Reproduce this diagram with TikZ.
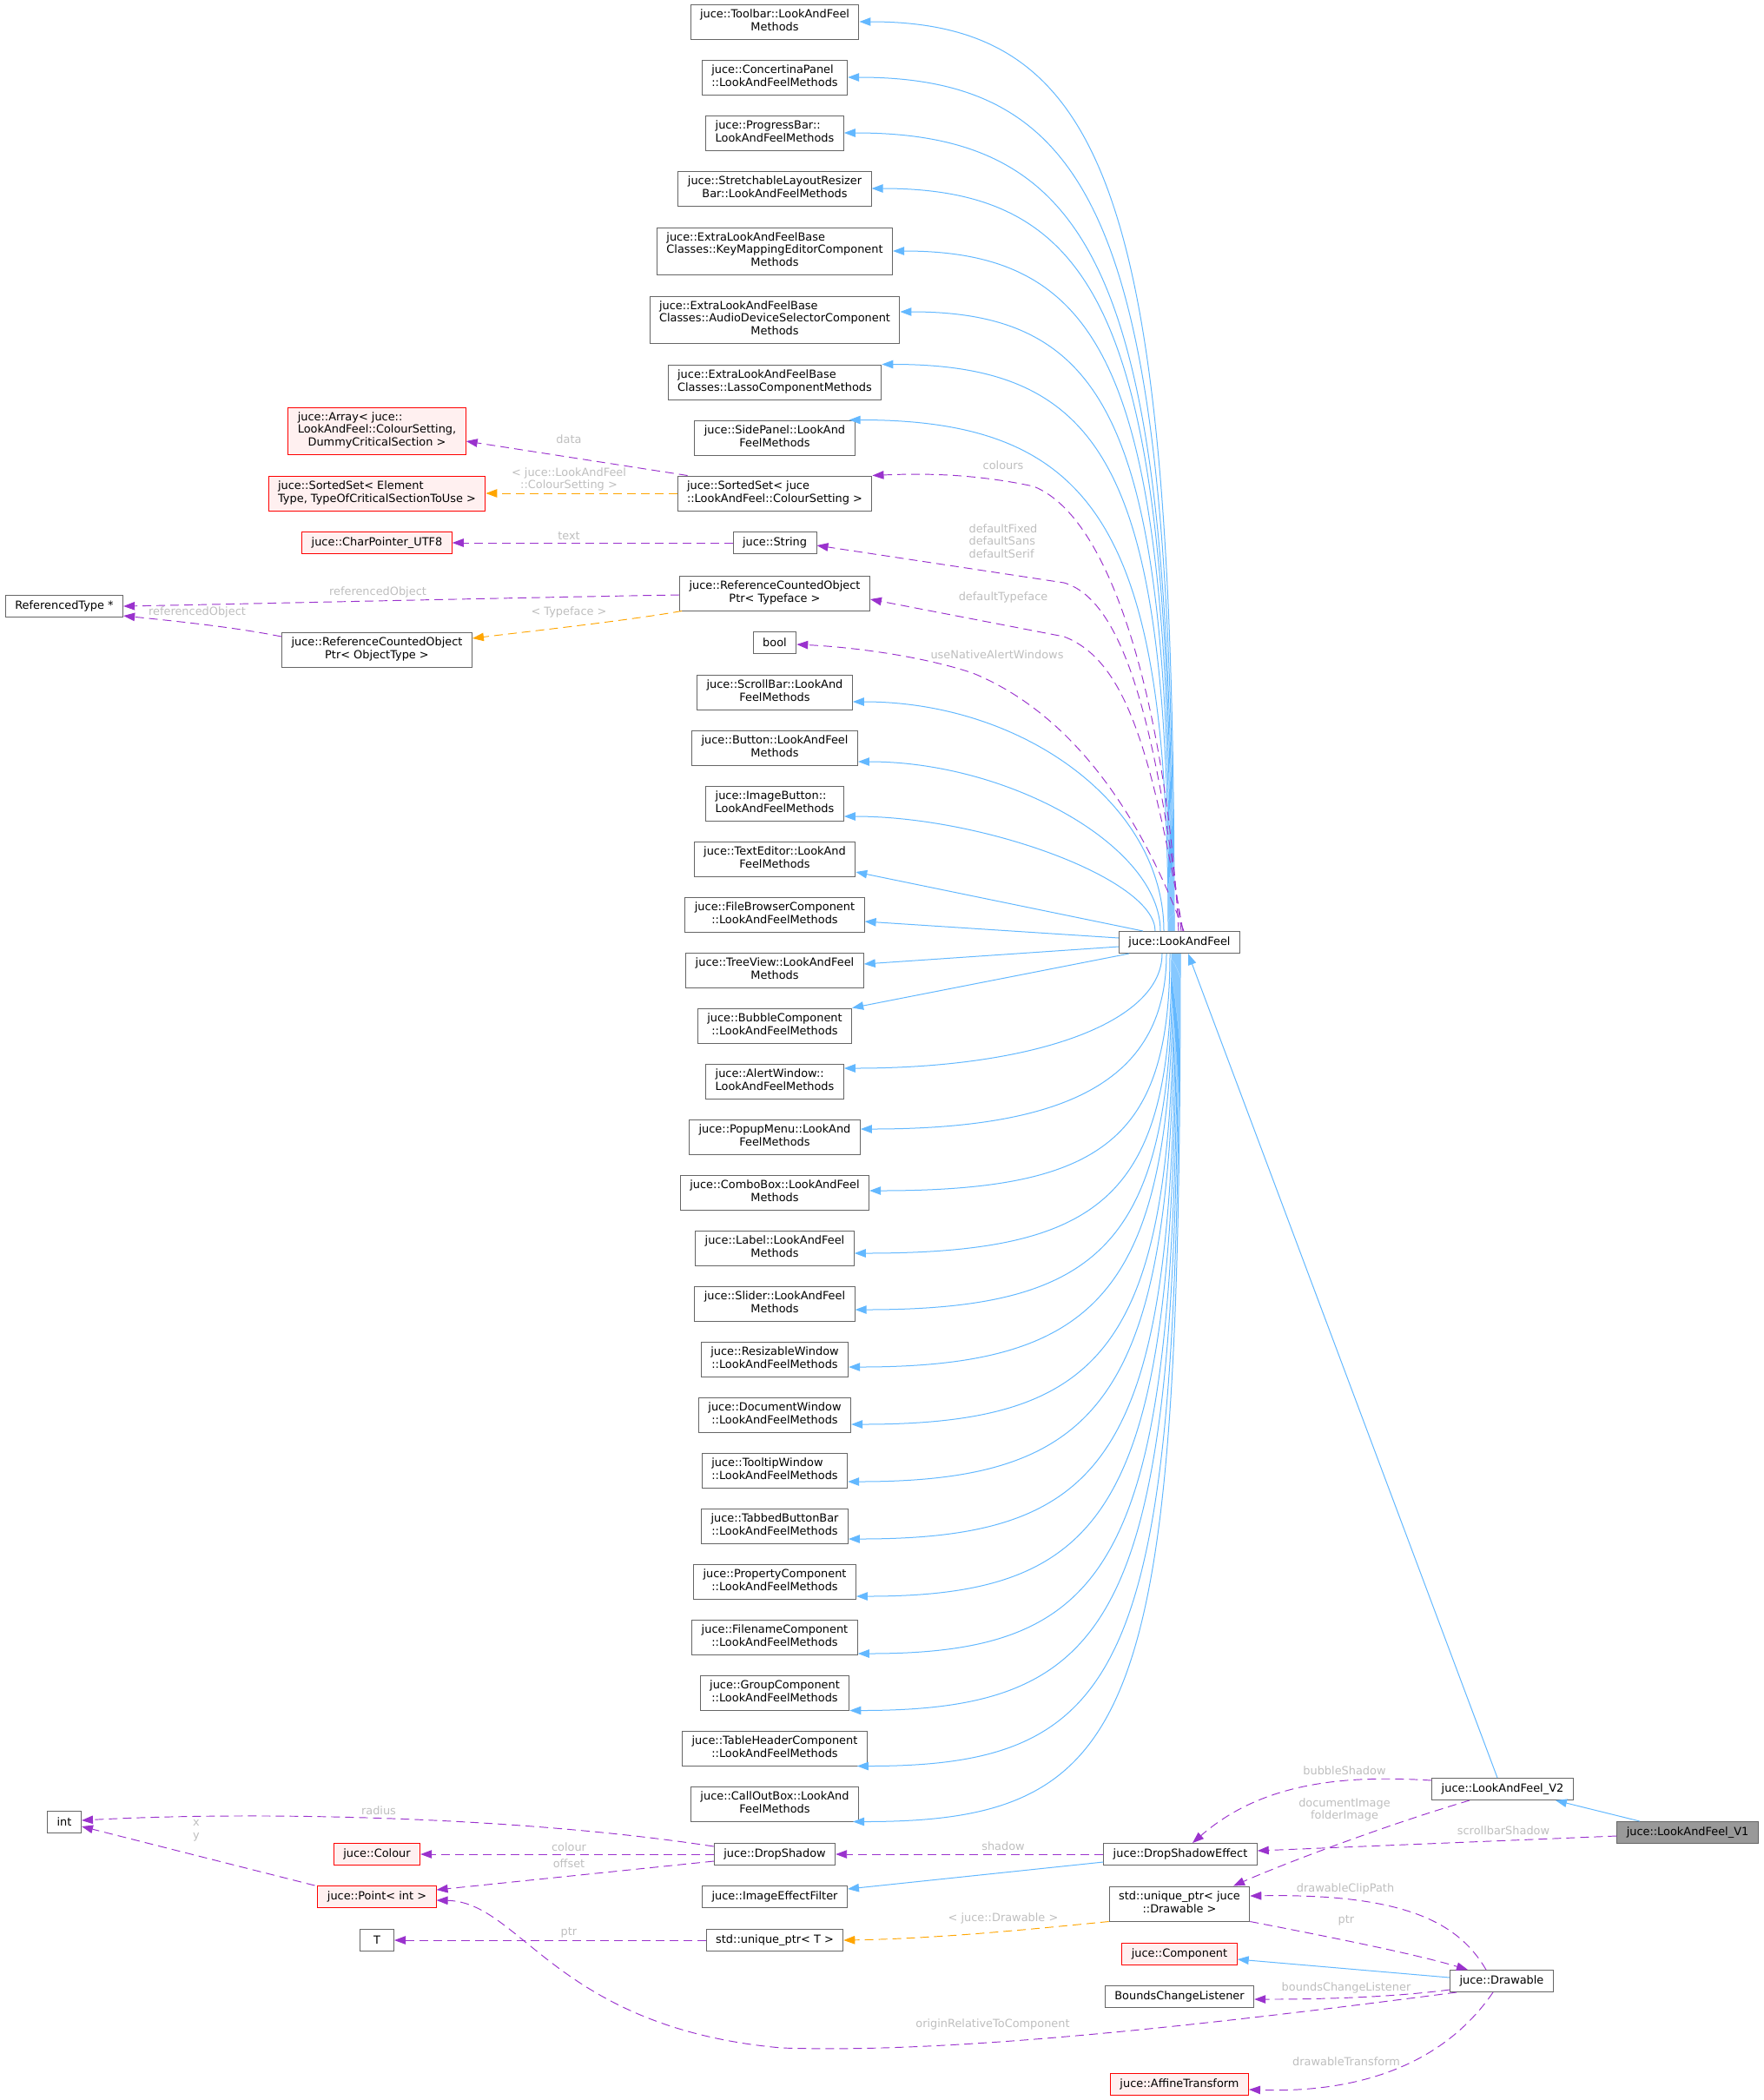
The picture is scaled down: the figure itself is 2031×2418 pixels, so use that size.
\documentclass[tikz,border=0pt]{standalone}
\usepackage{fontspec}
\setmainfont{DejaVu Sans}
\usetikzlibrary{arrows.meta,calc}
\definecolor{edgeblue}{HTML}{63B8FF}
\definecolor{edgepurple}{HTML}{9A32CD}
\definecolor{edgeorange}{HTML}{FFA500}
\definecolor{boxgray}{HTML}{666666}
\definecolor{lblgray}{HTML}{BEBEBE}
\definecolor{redfill}{HTML}{FFF0F0}
\definecolor{curfill}{HTML}{999999}
\newcommand\twol[2]{\begin{tabular}{@{}l@{}}#1\\\multicolumn{1}{@{}c@{}}{#2}\end{tabular}}
\newcommand\threel[3]{\begin{tabular}{@{}l@{}}#1\\#2\\\multicolumn{1}{@{}c@{}}{#3}\end{tabular}}
\newcommand\inhc[4]{\draw[inh] let \p1=(#1), \p2=(#2) in (\p2) .. controls (\x2,{\y2+#3*(\y1-\y2)}) and ({\x1+#4*(\x2-\x1)},\y1) .. (\p1);}
\tikzset{
  box/.style={draw=boxgray, fill=white, line width=1pt, inner xsep=11pt, inner ysep=0pt,
    minimum width=39pt, minimum height=25pt, align=center,
    font=\fontsize{12.9}{14.5}\selectfont, text=black},
  hh/.style={minimum height=40pt},
  hhh/.style={minimum height=54pt},
  redbox/.style={box, draw=red, fill=redfill},
  curbox/.style={box, fill=curfill},
  inh/.style={draw=edgeblue, line width=1pt, -{Triangle[length=13pt,width=9.5pt]}},
  mem/.style={draw=edgepurple, line width=0.95pt, dash pattern=on 10pt off 6pt, -{Triangle[length=13pt,width=9.5pt]}},
  tmpl/.style={mem, draw=edgeorange},
  lbl/.style={text=lblgray, font=\fontsize{12.9}{14.5}\selectfont, inner sep=0pt, align=center},
}
\begin{document}
\begin{tikzpicture}[x=1pt,y=-1pt]
\useasboundingbox (0,0) rectangle (2031,2418);
% ---- central column
\node[box,hh] (tb) at (892,25) {\twol{juce::Toolbar::LookAndFeel}{Methods}};
\node[box,hh] (cp) at (892,89) {\twol{juce::ConcertinaPanel}{::LookAndFeelMethods}};
\node[box,hh] (pb) at (892,153) {\twol{juce::ProgressBar::}{LookAndFeelMethods}};
\node[box,hh] (sl) at (892,217) {\twol{juce::StretchableLayoutResizer}{Bar::LookAndFeelMethods}};
\node[box,hhh] (km) at (892,289) {\threel{juce::ExtraLookAndFeelBase}{Classes::KeyMappingEditorComponent}{Methods}};
\node[box,hhh] (ad) at (892,368) {\threel{juce::ExtraLookAndFeelBase}{Classes::AudioDeviceSelectorComponent}{Methods}};
\node[box,hh] (la) at (892,440) {\twol{juce::ExtraLookAndFeelBase}{Classes::LassoComponentMethods}};
\node[box,hh] (sp) at (892,504) {\twol{juce::SidePanel::LookAnd}{FeelMethods}};
\node[box,hh] (ss) at (892,568) {\twol{juce::SortedSet< juce}{::LookAndFeel::ColourSetting >}};
\node[box] (str) at (892,625) {juce::String};
\node[box,hh] (rct) at (892,683) {\twol{juce::ReferenceCountedObject}{Ptr< Typeface >}};
\node[box] (bool) at (892,740) {bool};
\node[box,hh] (sb) at (892,797) {\twol{juce::ScrollBar::LookAnd}{FeelMethods}};
\node[box,hh] (bt) at (892,861) {\twol{juce::Button::LookAndFeel}{Methods}};
\node[box,hh] (ib) at (892,925) {\twol{juce::ImageButton::}{LookAndFeelMethods}};
\node[box,hh] (te) at (892,989) {\twol{juce::TextEditor::LookAnd}{FeelMethods}};
\node[box,hh] (fb) at (892,1053) {\twol{juce::FileBrowserComponent}{::LookAndFeelMethods}};
\node[box,hh] (tv) at (892,1117) {\twol{juce::TreeView::LookAndFeel}{Methods}};
\node[box,hh] (bc) at (892,1181) {\twol{juce::BubbleComponent}{::LookAndFeelMethods}};
\node[box,hh] (aw) at (892,1245) {\twol{juce::AlertWindow::}{LookAndFeelMethods}};
\node[box,hh] (pm) at (892,1309) {\twol{juce::PopupMenu::LookAnd}{FeelMethods}};
\node[box,hh] (cb) at (892,1373) {\twol{juce::ComboBox::LookAndFeel}{Methods}};
\node[box,hh] (lb) at (892,1437) {\twol{juce::Label::LookAndFeel}{Methods}};
\node[box,hh] (sd) at (892,1501) {\twol{juce::Slider::LookAndFeel}{Methods}};
\node[box,hh] (rw) at (892,1565) {\twol{juce::ResizableWindow}{::LookAndFeelMethods}};
\node[box,hh] (dw) at (892,1629) {\twol{juce::DocumentWindow}{::LookAndFeelMethods}};
\node[box,hh] (ttw) at (892,1693) {\twol{juce::TooltipWindow}{::LookAndFeelMethods}};
\node[box,hh] (tbb) at (892,1757) {\twol{juce::TabbedButtonBar}{::LookAndFeelMethods}};
\node[box,hh] (pc) at (892,1821) {\twol{juce::PropertyComponent}{::LookAndFeelMethods}};
\node[box,hh] (fc) at (892,1885) {\twol{juce::FilenameComponent}{::LookAndFeelMethods}};
\node[box,hh] (gc) at (892,1949) {\twol{juce::GroupComponent}{::LookAndFeelMethods}};
\node[box,hh] (th) at (892,2013) {\twol{juce::TableHeaderComponent}{::LookAndFeelMethods}};
\node[box,hh] (cob) at (892,2077) {\twol{juce::CallOutBox::LookAnd}{FeelMethods}};
\node[box] (ds) at (892,2135) {juce::DropShadow};
\node[box] (ief) at (892,2184) {juce::ImageEffectFilter};
\node[box] (upT) at (892,2234) {std::unique\_ptr< T >};
% ---- left columns
\node[redbox,hhh] (arr) at (434,496) {\threel{juce::Array< juce::}{LookAndFeel::ColourSetting,}{DummyCriticalSection >}};
\node[redbox,hh] (sse) at (434,568) {\twol{juce::SortedSet< Element}{Type, TypeOfCriticalSectionToUse >}};
\node[redbox] (cpu) at (434,625) {juce::CharPointer\_UTF8};
\node[box,hh] (rco) at (434,748) {\twol{juce::ReferenceCountedObject}{Ptr< ObjectType >}};
\node[box] (rt) at (74,698) {ReferencedType *};
\node[box] (int) at (74,2098) {int};
\node[redbox] (col) at (434,2135) {juce::Colour};
\node[redbox] (pt) at (434,2184) {juce::Point< int >};
\node[box] (T) at (434,2234) {T};
% ---- right part
\node[box] (laf) at (1358,1085) {juce::LookAndFeel};
\node[box] (dse) at (1359,2135) {juce::DropShadowEffect};
\node[box,hh] (upD) at (1358,2192) {\twol{std::unique\_ptr< juce}{::Drawable >}};
\node[redbox] (comp) at (1358,2250) {juce::Component};
\node[box] (bcl) at (1358,2299) {BoundsChangeListener};
\node[redbox] (aff) at (1358,2400) {juce::AffineTransform};
\node[box] (v2) at (1730,2060) {juce::LookAndFeel\_V2};
\node[curbox] (v1) at (1943,2110) {juce::LookAndFeel\_V1};
\node[box] (drw) at (1729,2281) {juce::Drawable};
% ---- inheritance from LookAndFeel (upper)
\inhc{tb.east}{[xshift=-6pt]laf.north}{0.8}{0.8}
\inhc{cp.east}{[xshift=-7pt]laf.north}{0.8}{0.8}
\inhc{pb.east}{[xshift=-8pt]laf.north}{0.8}{0.8}
\inhc{sl.east}{[xshift=-9pt]laf.north}{0.8}{0.8}
\inhc{km.east}{[xshift=-10pt]laf.north}{0.8}{0.8}
\inhc{[yshift=9pt]ad.east}{[xshift=-11pt]laf.north}{0.8}{0.8}
\inhc{la.north east}{[xshift=-12pt]laf.north}{0.8}{0.8}
\inhc{[xshift=-7pt]sp.north east}{[xshift=-13pt]laf.north}{0.78}{0.78}
\inhc{[yshift=-11pt]sb.east}{[xshift=-18pt]laf.north}{0.55}{0.55}
\inhc{[yshift=-16pt]bt.east}{[xshift=-22pt]laf.north}{0.5}{0.5}
\inhc{[yshift=-15pt]ib.east}{[xshift=-28pt]laf.north}{0.45}{0.45}
\draw[inh] ([xshift=-42pt]laf.north) -- ([yshift=-15pt]te.east);
\draw[inh] ([yshift=5pt]laf.west) -- ([yshift=-8pt]fb.east);
\draw[inh] ([yshift=-5pt]laf.west) -- ([yshift=7pt]tv.east);
\draw[inh] ([xshift=-58pt]laf.south) -- (bc.north east);
% ---- inheritance from LookAndFeel (lower)
\inhc{[yshift=15pt]aw.east}{[xshift=-20pt]laf.south}{0.6}{0.6}
\inhc{[yshift=9pt]pm.east}{[xshift=-15pt]laf.south}{0.7}{0.7}
\inhc{[yshift=2pt]cb.east}{[xshift=-11pt]laf.south}{0.78}{0.78}
\inhc{[yshift=-6pt]lb.east}{[xshift=-9pt]laf.south}{0.8}{0.8}
\inhc{[yshift=-7pt]sd.east}{[xshift=-8pt]laf.south}{0.8}{0.8}
\inhc{[yshift=-9pt]rw.east}{[xshift=-7pt]laf.south}{0.8}{0.8}
\inhc{[yshift=-11pt]dw.east}{[xshift=-6pt]laf.south}{0.82}{0.82}
\inhc{[yshift=-13pt]ttw.east}{[xshift=-5pt]laf.south}{0.82}{0.82}
\inhc{[yshift=-15pt]tbb.east}{[xshift=-4pt]laf.south}{0.84}{0.84}
\inhc{[yshift=-17pt]pc.east}{[xshift=-3pt]laf.south}{0.84}{0.84}
\inhc{[yshift=-19pt]fc.east}{[xshift=-2pt]laf.south}{0.85}{0.85}
\inhc{gc.south east}{[xshift=-1pt]laf.south}{0.86}{0.86}
\inhc{[xshift=-12pt]th.south east}{laf.south}{0.87}{0.87}
\inhc{[xshift=-7pt]cob.south east}{[xshift=1pt]laf.south}{0.88}{0.88}
% ---- members of LookAndFeel
\draw[mem] ([xshift=-1pt]laf.north) .. controls (1345,850) and (1290,600) .. (1190,560) .. controls (1120,545) and (1060,545) .. (ss.north east);
\draw[mem] ([xshift=2pt]laf.north) .. controls (1330,820) and (1290,690) .. (1225,671) -- ([yshift=-3pt]str.east);
\draw[mem] ([xshift=4pt]laf.north) .. controls (1325,860) and (1295,760) .. (1225,733) -- ([yshift=-7pt]rct.east);
\draw[mem] ([xshift=5pt]laf.north) .. controls (1310,930) and (1230,820) .. (1120,775) .. controls (1060,755) and (980,745) .. ([yshift=-2pt]bool.east);
\node[lbl] (lcol) at (1155,536) {colours};
\node[lbl,align=left] (lfix) at (1155,623) {defaultFixed\\defaultSans\\defaultSerif};
\node[lbl] (ltyp) at (1155,688) {defaultTypeface};
\node[lbl] (lnat) at (1148,754) {useNativeAlertWindows};
% ---- left side members
\draw[mem] ([xshift=12pt]ss.north west) -- ([yshift=-12pt]arr.east);
\draw[tmpl] (ss.west) -- (sse.east);
\draw[mem] (str.west) -- (cpu.east);
\draw[mem] ([yshift=-2pt]rct.west) .. controls (600,688) and (300,695) .. (rt.east);
\draw[tmpl] ([xshift=3pt]rct.south west) .. controls (720,715) and (600,728) .. ([yshift=13pt]rco.east);
\draw[mem] ([yshift=15pt]rco.west) .. controls (270,722) and (200,715) .. ([yshift=2pt]rt.south east);
\node[lbl] (ldata) at (655,506) {data};
\node[lbl] (lcs) at (655,552) {< juce::LookAndFeel\\::ColourSetting >};
\node[lbl] (ltext) at (655,617) {text};
\node[lbl] (lref1) at (435,682) {referencedObject};
\node[lbl] (ltf) at (655,705) {< Typeface >};
\node[lbl] (lref2) at (227,705) {referencedObject};
% ---- bottom left
\draw[mem] ([yshift=9pt]ds.west) .. controls (600,2092) and (300,2085) .. ([yshift=2pt]int.east);
\draw[mem] (ds.west) -- (col.east);
\draw[mem] ([yshift=-8pt]ds.west) -- ([yshift=8pt]pt.east);
\draw[mem] ([xshift=-3pt]pt.north west) -- ([yshift=-5pt]int.east);
\draw[mem] (upT.west) -- (T.east);
\node[lbl] (lrad) at (436,2085) {radius};
\node[lbl] (lcolour) at (655,2127) {colour};
\node[lbl] (loff) at (655,2146) {offset};
\node[lbl] (lxy) at (226,2108) {x\\y};
\node[lbl] (lptr1) at (655,2225) {ptr};
% ---- bottom right
\draw[mem] (dse.west) -- (ds.east);
\draw[inh] ([yshift=-9pt]dse.west) -- ([yshift=9pt]ief.east);
\draw[tmpl] (upD.south west) .. controls (1180,2222) and (1080,2232) .. (upT.east);
\draw[mem] ([yshift=-4pt]v1.west) -- ([yshift=4pt]dse.east);
\draw[mem] ([yshift=10pt]v2.west) .. controls (1540,2043) and (1450,2055) .. ([xshift=14pt]dse.north);
\draw[mem] ([xshift=-38pt]v2.south) .. controls (1600,2100) and (1480,2145) .. ([xshift=62pt]upD.north);
\draw[mem] (upD.south east) .. controls (1530,2230) and (1630,2250) .. ([xshift=-39pt]drw.north);
\draw[mem] ([xshift=-18pt]drw.north) .. controls (1680,2215) and (1620,2180) .. ([yshift=9pt]upD.east);
\draw[inh] ([yshift=4pt]drw.west) -- ([yshift=-6pt]comp.east);
\draw[mem] ([yshift=-10pt]drw.west) .. controls (1600,2300) and (1520,2302) .. ([yshift=-3pt]bcl.east);
\draw[mem] ([xshift=-52pt]drw.south) .. controls (1400,2330) and (1100,2365) .. (900,2358) .. controls (640,2335) and (600,2190) .. ([yshift=-4pt]pt.east);
\draw[mem] ([xshift=-10pt]drw.south) .. controls (1660,2380) and (1560,2410) .. ([yshift=-6pt]aff.east);
\draw[inh] ([xshift=-6pt]v2.north) -- ([xshift=10pt]laf.south);
\draw[inh] ([xshift=-55pt]v1.north) -- ([xshift=61pt]v2.south);
\node[lbl] (lshadow) at (1155,2126) {shadow};
\node[lbl] (ldraw) at (1155,2209) {< juce::Drawable >};
\node[lbl] (lsbs) at (1731,2108) {scrollbarShadow};
\node[lbl] (lbub) at (1548,2039) {bubbleShadow};
\node[lbl] (ldoc) at (1548,2084) {documentImage\\folderImage};
\node[lbl] (lptr2) at (1550,2211) {ptr};
\node[lbl] (lclip) at (1549,2175) {drawableClipPath};
\node[lbl] (lbcl) at (1550,2289) {boundsChangeListener};
\node[lbl] (lorig) at (1143,2331) {originRelativeToComponent};
\node[lbl] (ltrans) at (1550,2374) {drawableTransform};
\end{tikzpicture}
\end{document}
